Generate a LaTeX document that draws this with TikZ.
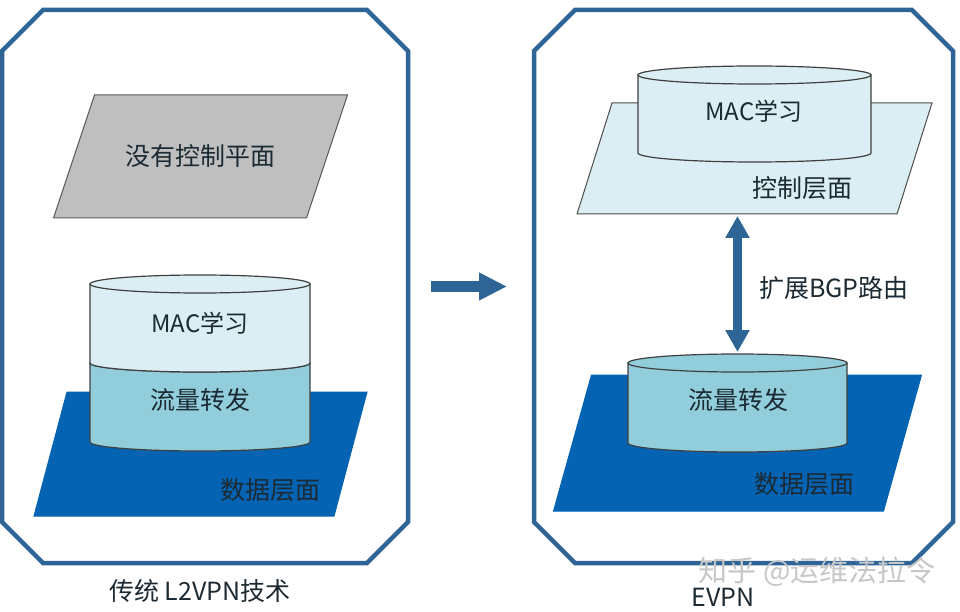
\documentclass[tikz,border=0pt]{standalone}
\usepackage{fontspec}
\setmainfont{Noto Sans CJK SC}
\usetikzlibrary{arrows.meta}
\definecolor{panelblue}{HTML}{2F6496}
\definecolor{lightplane}{HTML}{DAEEF3}
\definecolor{midcyl}{HTML}{92CDDC}
\definecolor{darkplane}{HTML}{0563B3}
\definecolor{inktext}{HTML}{1C2A33}
% outline of a panel with cut corners, around a named node
\newcommand{\panelshape}[1]{
  \draw[panel line] ([yshift=-41pt]#1.north west) -- ([xshift=41pt]#1.north west)
    -- ([xshift=-41pt]#1.north east) -- ([yshift=-41pt]#1.north east)
    -- ([yshift=41pt]#1.south east) -- ([xshift=-41pt]#1.south east)
    -- ([xshift=41pt]#1.south west) -- ([yshift=41pt]#1.south west) -- cycle;
}
% drum body and lid on a named node: node, colour, half width
\newcommand{\drumshape}[3]{
  \filldraw[drum line,fill=#2] (#1.north west) -- (#1.south west)
    arc[start angle=180,end angle=360,x radius=#3,y radius=9pt] -- (#1.north east) -- cycle;
  \filldraw[drum line,fill=#2] (#1.north) ellipse [x radius=#3,y radius=9pt];
}

\begin{document}
\begin{tikzpicture}[x=1pt,y=-1pt,
  box/.style={rectangle,inner sep=0pt,outer sep=0pt},
  plane/.style={box,transform shape,xslant=#1,line width=1pt},
  panel line/.style={draw=panelblue,line width=4.5pt,fill=white,line join=miter},
  drum line/.style={draw=black!75,line width=1.2pt},
  label/.style={font=\fontsize{25}{28}\selectfont,text=inktext},
  maclabel/.style={font=\fontsize{24}{28}\selectfont,text=inktext}]
  \useasboundingbox (0,0) rectangle (960,612);
  \fill[white] (0,0) rectangle (960,612);

  % left side
  \node[box,minimum width=406pt,minimum height=553pt] (old) at (205,286.5) {};
  \panelshape{old}
  \node[plane=0.333,draw=black!65,fill=black!25,minimum width=253pt,minimum height=123pt] (noctrl) at (200.5,156.5) {};
  \node[label] (noctrltext) at (200,156) {没有控制平面};
  \node[plane=0.266,draw=darkplane,fill=darkplane,minimum width=300pt,minimum height=124pt] (olddata) at (200.5,454) {};
  \node[box,minimum width=220pt,minimum height=79pt] (oldfwd) at (200,402.5) {};
  \drumshape{oldfwd}{midcyl}{110pt}
  \node[box,minimum width=220pt,minimum height=79pt] (oldmac) at (200,323.5) {};
  \drumshape{oldmac}{lightplane}{110pt}
  \node[maclabel] (oldmactext) at (200,323) {MAC学习};
  \node[label] (oldfwdtext) at (200,400) {流量转发};
  \node[label] (olddatatext) at (270,490) {数据层面};
  \node[label] (oldcap) at (200,591) {传统 L2VPN技术};

  % right side
  \node[box,minimum width=419pt,minimum height=553pt] (evpn) at (743.5,286.5) {};
  \panelshape{evpn}
  \node[plane=0.315,draw=black!70,fill=lightplane,minimum width=320pt,minimum height=111pt] (ctrl) at (754.5,158.5) {};
  \node[box,minimum width=233pt,minimum height=78pt] (mac) at (754.5,114) {};
  \drumshape{mac}{lightplane}{116.5pt}
  \node[maclabel] (mactext) at (754,111) {MAC学习};
  \node[label] (ctrltext) at (802,188) {控制层面};
  \node[plane=0.279,draw=darkplane,fill=darkplane,minimum width=330pt,minimum height=136pt] (data) at (737.5,443) {};
  \node[box,minimum width=219pt,minimum height=80pt] (fwd) at (737.5,403) {};
  \drumshape{fwd}{midcyl}{109.5pt}
  \node[label] (fwdtext) at (738,400) {流量转发};
  \node[label] (datatext) at (804,484) {数据层面};
  \node[label] (bgp) at (834,288) {扩展BGP路由};
  \node[label] (evpncap) at (723,597) {EVPN};

  \draw[line width=8.5pt,draw=panelblue,{Triangle[length=22pt,width=23pt]}-{Triangle[length=22pt,width=23pt]},
    shorten <=2pt,shorten >=11pt] (ctrl.south -| fwd.north) -- (fwd.north);
  \draw[line width=11pt,draw=panelblue,-{Triangle[length=28pt,width=26pt]},shorten <=23pt,shorten >=27pt]
    (old.east) -- (evpn.west);

  \node[font=\fontsize{29}{30}\selectfont,text=black!22] (mark) at (817,572) {知乎 @运维法拉令};
\end{tikzpicture}
\end{document}
